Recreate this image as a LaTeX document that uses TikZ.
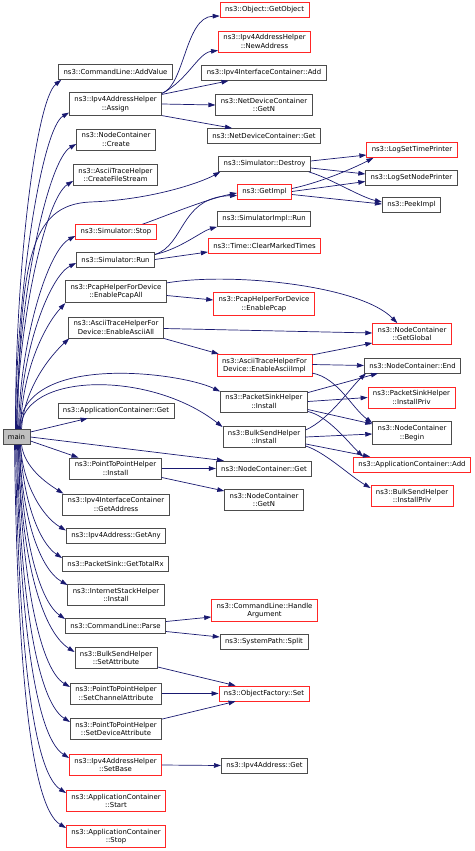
\documentclass[tikz,border=0pt]{standalone}
\usepackage{fontspec}
\setmainfont{DejaVu Sans}
\usetikzlibrary{arrows.meta}
\definecolor{callblue}{RGB}{25,25,112}
\begin{document}
\begin{tikzpicture}[x=1pt,y=-1pt,
  fn/.style={draw=black!70, fill=white, line width=0.7pt, inner xsep=5pt, inner ysep=3.6pt,
    minimum height=15pt, align=center, font=\fontsize{6.9}{8.6}\selectfont},
  fnred/.style={fn, draw=red!85},
  callarrow/.style={draw=callblue, line width=0.7pt, -{Triangle[length=7pt,width=4.6pt]}}]
\useasboundingbox (0,0) rectangle (474,851);
\node[fnred] (getobject) at (264.5,10) {ns3::Object::GetObject};
\node[fnred] (newaddress) at (264.5,41.5) {ns3::Ipv4AddressHelper\\::NewAddress};
\node[fn] (addvalue) at (115.5,72) {ns3::CommandLine::AddValue};
\node[fn] (ifcadd) at (264,73) {ns3::Ipv4InterfaceContainer::Add};
\node[fn] (assign) at (115.5,104) {ns3::Ipv4AddressHelper\\::Assign};
\node[fn] (ndgetn) at (264,105) {ns3::NetDeviceContainer\\::GetN};
\node[fn] (create) at (116,139.5) {ns3::NodeContainer\\::Create};
\node[fn] (ndget) at (264,136) {ns3::NetDeviceContainer::Get};
\node[fnred] (timeprinter) at (412,150) {ns3::LogSetTimePrinter};
\node[fn] (destroy) at (264.5,164) {ns3::Simulator::Destroy};
\node[fn] (filestream) at (115.5,175) {ns3::AsciiTraceHelper\\::CreateFileStream};
\node[fn] (nodeprinter) at (411.5,177.5) {ns3::LogSetNodePrinter};
\node[fnred] (getimpl) at (264.5,191.5) {ns3::GetImpl};
\node[fn] (peekimpl) at (411.5,205) {ns3::PeekImpl};
\node[fn] (implrun) at (264,219) {ns3::SimulatorImpl::Run};
\node[fnred] (simstop) at (116,232) {ns3::Simulator::Stop};
\node[fnred] (clearmarked) at (264.5,246) {ns3::Time::ClearMarkedTimes};
\node[fn] (simrun) at (115.5,259.5) {ns3::Simulator::Run};
\node[fn] (pcapall) at (116,291.5) {ns3::PcapHelperForDevice\\::EnablePcapAll};
\node[fnred] (pcap) at (264,304) {ns3::PcapHelperForDevice\\::EnablePcap};
\node[fn] (asciiall) at (116,327.5) {ns3::AsciiTraceHelperFor\\Device::EnableAsciiAll};
\node[fnred] (getglobal) at (412,334) {ns3::NodeContainer\\::GetGlobal};
\node[fnred] (asciiimpl) at (264.5,365.5) {ns3::AsciiTraceHelperFor\\Device::EnableAsciiImpl};
\node[fn] (ncend) at (412.5,365.5) {ns3::NodeContainer::End};
\node[fn] (psinstall) at (264,401.5) {ns3::PacketSinkHelper\\::Install};
\node[fnred] (psinstallpriv) at (411.5,397.5) {ns3::PacketSinkHelper\\::InstallPriv};
\node[fn] (appget) at (116,410.5) {ns3::ApplicationContainer::Get};
\node[fn] (ncbegin) at (412,433) {ns3::NodeContainer\\::Begin};
\node[fn, fill=black!25] (main) at (16.5,437) {main};
\node[fn] (bsinstall) at (264,437) {ns3::BulkSendHelper\\::Install};
\node[fnred] (appadd) at (412,464.5) {ns3::ApplicationContainer::Add};
\node[fn] (p2pinstall) at (115.5,468.5) {ns3::PointToPointHelper\\::Install};
\node[fn] (ncget) at (264,468.5) {ns3::NodeContainer::Get};
\node[fnred] (bsinstallpriv) at (412,496) {ns3::BulkSendHelper\\::InstallPriv};
\node[fn] (ncgetn) at (264,500) {ns3::NodeContainer\\::GetN};
\node[fn] (getaddress) at (116,504.5) {ns3::Ipv4InterfaceContainer\\::GetAddress};
\node[fn] (getany) at (116,535.5) {ns3::Ipv4Address::GetAny};
\node[fn] (totalrx) at (115.5,563.5) {ns3::PacketSink::GetTotalRx};
\node[fn] (stackinstall) at (116,595) {ns3::InternetStackHelper\\::Install};
\node[fnred] (handlearg) at (264.5,610.5) {ns3::CommandLine::Handle\\Argument};
\node[fn] (parse) at (115.5,625.5) {ns3::CommandLine::Parse};
\node[fn] (split) at (264,642) {ns3::SystemPath::Split};
\node[fn] (setattr) at (116,658) {ns3::BulkSendHelper\\::SetAttribute};
\node[fn] (setchannel) at (116,693.5) {ns3::PointToPointHelper\\::SetChannelAttribute};
\node[fnred] (objset) at (264,693.5) {ns3::ObjectFactory::Set};
\node[fn] (setdevice) at (116,729) {ns3::PointToPointHelper\\::SetDeviceAttribute};
\node[fnred] (setbase) at (115.5,765) {ns3::Ipv4AddressHelper\\::SetBase};
\node[fn] (ipv4get) at (264.5,765.5) {ns3::Ipv4Address::Get};
\node[fnred] (appstart) at (116,801) {ns3::ApplicationContainer\\::Start};
\node[fnred] (appstop) at (116,836.5) {ns3::ApplicationContainer\\::Stop};
% calls from main, upwards
\draw[callarrow] ([xshift=13pt]main.north west) .. controls (15,270) and (36,100) .. ([xshift=3pt]addvalue.south west);
\draw[callarrow] ([xshift=13pt]main.north west) .. controls (16,290) and (42,128) .. ([yshift=3pt]assign.south west);
\draw[callarrow] ([xshift=14pt]main.north west) .. controls (17,300) and (48,160) .. ([yshift=-4.5pt]create.west);
\draw[callarrow] ([xshift=14pt]main.north west) .. controls (18,320) and (46,198) .. ([yshift=5pt]filestream.south west);
\draw[callarrow] ([xshift=15pt]main.north west) .. controls (20,260) and (30,205) .. (90,202) .. controls (150,200) and (200,183) .. ([xshift=2pt]destroy.south west);
\draw[callarrow] ([xshift=16pt]main.north west) .. controls (20,340) and (48,250) .. ([yshift=-4pt]simstop.west);
\draw[callarrow] ([xshift=17pt]main.north west) .. controls (21,350) and (50,276) .. ([yshift=-3.5pt]simrun.west);
\draw[callarrow] ([xshift=18pt]main.north west) .. controls (22,370) and (45,325) .. (pcapall.south west);
\draw[callarrow] ([xshift=19pt]main.north west) .. controls (24,390) and (48,358) .. ([xshift=1pt]asciiall.south west);
\draw[callarrow] ([xshift=17pt]main.north west) .. controls (21,352) and (180,372) .. ([yshift=10pt]psinstall.west);
\draw[callarrow] ([xshift=18pt]main.north west) .. controls (22,372) and (150,370) .. ([yshift=10pt]bsinstall.west);
% calls from main, to the right
\draw[callarrow] ([yshift=5pt]main.east) -- ([xshift=30pt]appget.south west);
\draw[callarrow] (main.east) -- ([xshift=8pt]ncget.north west);
\draw[callarrow] ([yshift=-4pt]main.east) -- ([xshift=9pt]p2pinstall.north west);
% calls from main, downwards
\draw[callarrow] ([xshift=19pt]main.south west) .. controls (24,464) and (40,479) .. ([xshift=1pt]getaddress.north west);
\draw[callarrow] ([xshift=18pt]main.south west) .. controls (22,480) and (40,515) .. ([yshift=5pt]getany.west);
\draw[callarrow] ([xshift=18pt]main.south west) .. controls (22,495) and (38,542) .. ([yshift=5.5pt]totalrx.west);
\draw[callarrow] ([xshift=17pt]main.south west) .. controls (21,510) and (38,568) .. ([yshift=10pt]stackinstall.west);
\draw[callarrow] ([xshift=17pt]main.south west) .. controls (21,530) and (38,600) .. ([yshift=6.5pt]parse.west);
\draw[callarrow] ([xshift=16pt]main.south west) .. controls (20,550) and (40,630) .. ([yshift=6pt]setattr.west);
\draw[callarrow] ([xshift=16pt]main.south west) .. controls (20,565) and (38,668) .. ([yshift=6.5pt]setchannel.west);
\draw[callarrow] ([xshift=15pt]main.south west) .. controls (19,580) and (35,700) .. ([yshift=7pt]setdevice.west);
\draw[callarrow] ([xshift=14pt]main.south west) .. controls (19,600) and (33,735) .. ([yshift=7pt]setbase.west);
\draw[callarrow] ([xshift=13pt]main.south west) .. controls (18,620) and (30,770) .. ([yshift=8pt]appstart.west);
\draw[callarrow] ([xshift=12pt]main.south west) .. controls (17,640) and (28,805) .. ([yshift=8.5pt]appstop.west);
% second level
\draw[callarrow] ([yshift=-1pt]assign.north east) .. controls (185,85) and (185,17) .. ([yshift=-6pt]getobject.west);
\draw[callarrow] ([yshift=-1pt]assign.north east) .. controls (188,80) and (198,53) .. ([yshift=-9pt]newaddress.west);
\draw[callarrow] ([yshift=-2pt]assign.north east) -- ([xshift=27pt]ifcadd.south west);
\draw[callarrow] (assign.east) -- (ndgetn.west);
\draw[callarrow] (assign.south east) -- ([xshift=25pt]ndget.north west);
\draw[callarrow] ([yshift=3pt]destroy.east) -- ([yshift=-5pt]timeprinter.west);
\draw[callarrow] ([yshift=-4pt]destroy.east) -- ([yshift=3.5pt]nodeprinter.west);
\draw[callarrow] ([xshift=-2pt]destroy.south east) .. controls (330,178) and (360,197) .. ([yshift=3pt]peekimpl.west);
\draw[callarrow] ([yshift=3pt]getimpl.east) .. controls (318,183) and (350,170) .. ([xshift=7pt]timeprinter.south west);
\draw[callarrow] (getimpl.east) -- ([yshift=-4pt]nodeprinter.west);
\draw[callarrow] ([yshift=-3pt]getimpl.east) -- ([yshift=1pt]peekimpl.west);
\draw[callarrow] ([xshift=-14pt]simstop.north east) .. controls (158,219) and (206,199) .. ([yshift=-1.5pt]getimpl.west);
\draw[callarrow] ([yshift=5pt]simrun.east) .. controls (185,245) and (180,197) .. ([yshift=-4pt]getimpl.west);
\draw[callarrow] ([yshift=5pt]simrun.east) .. controls (180,249) and (202,231) .. (implrun.south west);
\draw[callarrow] (simrun.east) -- ([yshift=-6pt]clearmarked.west);
\draw[callarrow] ([yshift=-4pt]pcapall.east) -- ([yshift=4pt]pcap.west);
\draw[callarrow] ([yshift=-3pt]pcapall.north east) .. controls (230,272) and (360,285) .. ([xshift=25pt]getglobal.north west);
\draw[callarrow] ([yshift=-1pt]asciiall.east) -- ([yshift=1pt]getglobal.west);
\draw[callarrow] (asciiall.south east) -- ([xshift=2pt]asciiimpl.north west);
\draw[callarrow] ([yshift=-1pt]asciiimpl.north east) -- ([yshift=-9pt]getglobal.west);
\draw[callarrow] ([yshift=1pt]asciiimpl.east) -- (ncend.west);
\draw[callarrow] ([yshift=4pt]asciiimpl.south east) .. controls (338,378) and (352,408) .. ([yshift=10pt]ncbegin.west);
\draw[callarrow] ([yshift=-2pt]psinstall.north east) -- ([xshift=14pt]ncend.south west);
\draw[callarrow] (psinstall.east) -- (psinstallpriv.west);
\draw[callarrow] ([yshift=-8pt]psinstall.east) -- ([yshift=9pt]ncbegin.west);
\draw[callarrow] ([yshift=-10pt]psinstall.east) .. controls (328,416) and (348,442) .. ([xshift=10pt]appadd.north west);
\draw[callarrow] ([yshift=-4pt]bsinstall.north east) .. controls (330,419) and (350,388) .. ([xshift=2pt]ncend.south west);
\draw[callarrow] (bsinstall.east) -- ([yshift=-1pt]ncbegin.west);
\draw[callarrow] ([yshift=4pt]bsinstall.south east) -- ([xshift=17pt]appadd.north west);
\draw[callarrow] ([yshift=2pt]bsinstall.south east) .. controls (325,452) and (350,476) .. ([yshift=8pt]bsinstallpriv.west);
\draw[callarrow] (p2pinstall.east) -- (ncget.west);
\draw[callarrow] ([yshift=2pt]p2pinstall.south east) -- ([yshift=9pt]ncgetn.west);
\draw[callarrow] ([yshift=4pt]parse.east) -- ([yshift=-6.5pt]handlearg.west);
\draw[callarrow] ([yshift=-6pt]parse.east) -- ([yshift=5pt]split.west);
\draw[callarrow] ([yshift=2pt]setattr.south east) -- ([xshift=17pt]objset.north west);
\draw[callarrow] (setchannel.east) -- (objset.west);
\draw[callarrow] ([yshift=-1pt]setdevice.north east) -- ([xshift=17pt]objset.south west);
\draw[callarrow] (setbase.east) -- (ipv4get.west);
\end{tikzpicture}
\end{document}
